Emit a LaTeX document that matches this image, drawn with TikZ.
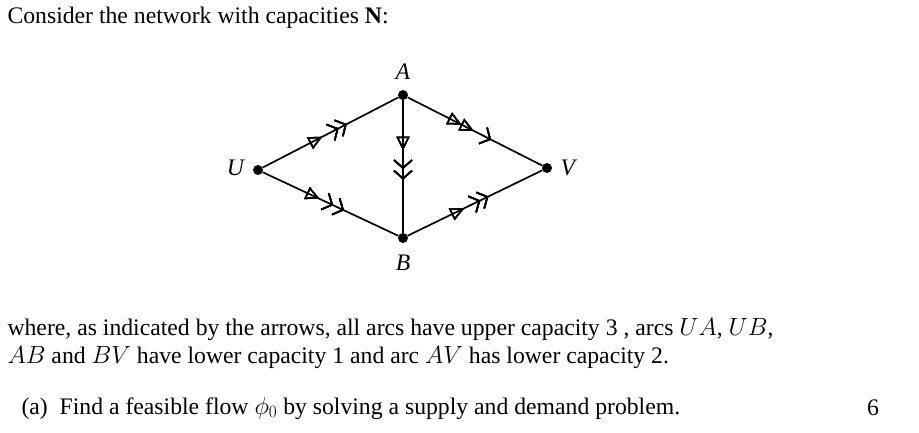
\documentclass[tikz,border=0pt]{standalone}
\usepackage{fontspec}
\setmainfont{Liberation Serif}
\usetikzlibrary{arrows.meta,decorations.markings}
\begin{document}
\begin{tikzpicture}[x=1pt,y=-1pt,
  every node/.style={font=\fontsize{23.7}{28}\selectfont},
  dot/.style={circle,fill,inner sep=0pt,minimum size=10pt},
  edge/.style={line width=1.7pt},
  tri/.style={decoration={markings,mark=at position #1 with {\arrow[line width=1.5pt]{Triangle[open,length=14pt,width=13pt]}}},postaction=decorate},
  barb/.style={decoration={markings,mark=at position #1 with {\arrow[line width=1.7pt]{Straight Barb[length=8pt,width=18pt]}}},postaction=decorate}]
\useasboundingbox (0,0) rectangle (919,433);
\node[anchor=west] (t) at (4,18) {Consider the network with capacities \textbf{N}:};
\node[dot] (U) at (258,170) {};
\node[dot] (A) at (403,95) {};
\node[dot] (V) at (547,168) {};
\node[dot] (B) at (403,238) {};
\node (lu) at (236,168) {\textit{U}};
\node (la) at (403,72) {\textit{A}};
\node (lv) at (569,168) {\textit{V}};
\node (lb) at (403,263) {\textit{B}};
\draw[edge,tri=0.44,barb=0.56,barb=0.62] (U) -- (A);
\draw[edge,tri=0.42,barb=0.52,barb=0.60] (U) -- (B);
\draw[edge,tri=0.40,tri=0.49,barb=0.62] (A) -- (V);
\draw[edge,tri=0.42,barb=0.54,barb=0.60] (B) -- (V);
\draw[edge,tri=0.38,barb=0.52,barb=0.60] (A) -- (B);
\node[anchor=west] (l1) at (4,330) {where, as indicated by the arrows, all arcs have upper capacity 3 , arcs $UA$, $UB$,};
\node[anchor=west] (l2) at (4,358) {$AB$ and $BV$ have lower capacity 1 and arc $AV$ has lower capacity 2.};
\node[anchor=west] (l3) at (18,408) {(a)\ \ Find a feasible flow $\phi_0$ by solving a supply and demand problem.};
\node (six) at (873,408) {6};
\end{tikzpicture}
\end{document}
